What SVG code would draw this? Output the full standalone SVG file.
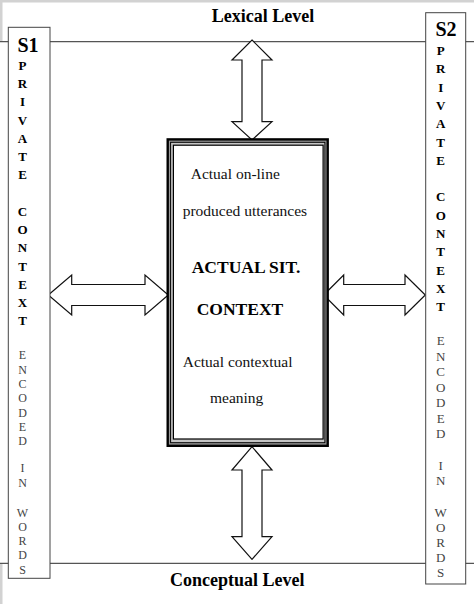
<svg xmlns="http://www.w3.org/2000/svg" width="474" height="604" viewBox="0 0 474 604">
  <style>
    .serif { font-family: "Liberation Serif", "Times New Roman", serif; }
    .lvl { font-family: "Liberation Serif", "Times New Roman", serif; font-weight: bold; font-size: 18px; fill: #000; }
    .big { font-family: "Liberation Serif", "Times New Roman", serif; font-weight: bold; font-size: 20px; fill: #000; text-anchor: middle; }
    .bl { font-family: "Liberation Serif", "Times New Roman", serif; font-weight: bold; font-size: 13px; fill: #000; text-anchor: middle; }
    .rl { font-family: "Liberation Serif", "Times New Roman", serif; font-size: 12px; fill: #444; text-anchor: middle; }
    .rr { font-family: "Liberation Serif", "Times New Roman", serif; font-size: 13px; fill: #444; text-anchor: middle; }
    .ct { font-family: "Liberation Serif", "Times New Roman", serif; font-size: 15.5px; fill: #111; }
    .cb { font-family: "Liberation Serif", "Times New Roman", serif; font-weight: bold; font-size: 17.5px; fill: #000; }
    .col { fill: #fff; stroke: #444; stroke-width: 1; }
    .arrow { fill: #fff; stroke: #111; stroke-width: 1.2; stroke-linejoin: miter; }
    .lvline { stroke: #555; stroke-width: 1.2; fill: none; }
  </style>

  <rect x="0" y="0" width="474" height="604" fill="#fff"/>
  <g id="scan-edge" fill="#d2d2d2">
    <rect x="0" y="0" width="474" height="2.5"/>
    <rect x="0" y="0" width="2.5" height="41"/>
    <rect x="0" y="564" width="2.5" height="40"/>
  </g>

  <g id="levels">
    <line class="lvline" x1="0" y1="41.7" x2="474" y2="41.7"/>
    <line class="lvline" x1="0" y1="563.3" x2="474" y2="563.3"/>
    <text class="lvl" x="211.7" y="21.7">Lexical Level</text>
    <text class="lvl" x="170" y="585.7">Conceptual Level</text>
  </g>

  <g id="connectors">
    <path class="arrow" d="M252,40 L272,60 L262,60 L262,121.7 L272,121.7 L252,140 L232,121.7 L242,121.7 L242,60 L232,60 Z"/>
    <path class="arrow" d="M252,446.7 L272,470 L262,470 L262,536.7 L272,536.7 L252,559.3 L232,536.7 L242,536.7 L242,470 L232,470 Z"/>
    <path class="arrow" d="M48.3,295 L71.7,275 L71.7,284.5 L145,284.5 L145,275 L168.3,295 L145,315 L145,305.5 L71.7,305.5 L71.7,315 Z"/>
    <path class="arrow" d="M323.7,295 L343.7,275 L343.7,284.5 L405,284.5 L405,275 L425.3,295 L405,315 L405,305.5 L343.7,305.5 L343.7,315 Z"/>
  </g>

  <g id="s1">
    <rect class="col" x="8.3" y="27.3" width="41.7" height="551"/>
    <text class="big" x="28" y="52">S1</text>
    <text class="bl" x="22.5" y="70">P</text>
    <text class="bl" x="22.5" y="88.2">R</text>
    <text class="bl" x="22.5" y="106.4">I</text>
    <text class="bl" x="22.5" y="124.6">V</text>
    <text class="bl" x="22.5" y="142.8">A</text>
    <text class="bl" x="22.5" y="161">T</text>
    <text class="bl" x="22.5" y="179.2">E</text>
    <text class="bl" x="22.5" y="216">C</text>
    <text class="bl" x="22.5" y="234.2">O</text>
    <text class="bl" x="22.5" y="252.4">N</text>
    <text class="bl" x="22.5" y="270.6">T</text>
    <text class="bl" x="22.5" y="288.8">E</text>
    <text class="bl" x="22.5" y="307">X</text>
    <text class="bl" x="22.5" y="325.2">T</text>
    <text class="rl" x="22.5" y="359.3">E</text>
    <text class="rl" x="22.5" y="373.6">N</text>
    <text class="rl" x="22.5" y="387.9">C</text>
    <text class="rl" x="22.5" y="402.2">O</text>
    <text class="rl" x="22.5" y="416.5">D</text>
    <text class="rl" x="22.5" y="430.8">E</text>
    <text class="rl" x="22.5" y="445.1">D</text>
    <text class="rl" x="22.5" y="471.7">I</text>
    <text class="rl" x="22.5" y="486.5">N</text>
    <text class="rl" x="22.5" y="516.7">W</text>
    <text class="rl" x="22.5" y="530.9">O</text>
    <text class="rl" x="22.5" y="545.1">R</text>
    <text class="rl" x="22.5" y="559.3">D</text>
    <text class="rl" x="22.5" y="573.5">S</text>
  </g>

  <g id="s2">
    <rect class="col" x="425.7" y="12.7" width="40" height="571.3"/>
    <text class="big" x="446" y="35.5">S2</text>
    <text class="bl" x="440.7" y="55">P</text>
    <text class="bl" x="440.7" y="73.3">R</text>
    <text class="bl" x="440.7" y="91.6">I</text>
    <text class="bl" x="440.7" y="109.9">V</text>
    <text class="bl" x="440.7" y="128.2">A</text>
    <text class="bl" x="440.7" y="146.5">T</text>
    <text class="bl" x="440.7" y="164.8">E</text>
    <text class="bl" x="440.7" y="201.4">C</text>
    <text class="bl" x="440.7" y="219.7">O</text>
    <text class="bl" x="440.7" y="238">N</text>
    <text class="bl" x="440.7" y="256.3">T</text>
    <text class="bl" x="440.7" y="274.6">E</text>
    <text class="bl" x="440.7" y="292.9">X</text>
    <text class="bl" x="440.7" y="311.2">T</text>
    <text class="rr" x="440.7" y="345">E</text>
    <text class="rr" x="440.7" y="360.5">N</text>
    <text class="rr" x="440.7" y="376">C</text>
    <text class="rr" x="440.7" y="391.5">O</text>
    <text class="rr" x="440.7" y="407">D</text>
    <text class="rr" x="440.7" y="422.5">E</text>
    <text class="rr" x="440.7" y="438">D</text>
    <text class="rr" x="440.7" y="470">I</text>
    <text class="rr" x="440.7" y="485">N</text>
    <text class="rr" x="440.7" y="516.7">W</text>
    <text class="rr" x="440.7" y="531.7">O</text>
    <text class="rr" x="440.7" y="546.7">R</text>
    <text class="rr" x="440.7" y="561.7">D</text>
    <text class="rr" x="440.7" y="576.7">S</text>
  </g>

  <g id="actual-context">
    <rect x="167.7" y="139.4" width="160" height="306.4" fill="#9a9a9a" stroke="#000" stroke-width="2.4"/>
    <rect x="170.6" y="142.3" width="154.3" height="300.4" fill="#c4c4c4" stroke="#000" stroke-width="1"/>
    <rect x="173.4" y="145.2" width="149.7" height="293.8" fill="#fff" stroke="#000" stroke-width="1.2"/>
    <text class="ct" x="190.7" y="179.3">Actual on-line</text>
    <text class="ct" x="182.7" y="216">produced utterances</text>
    <text class="cb" x="191.7" y="272.7">ACTUAL SIT.</text>
    <text class="cb" x="196.7" y="315">CONTEXT</text>
    <text class="ct" x="182.7" y="366.7">Actual contextual</text>
    <text class="ct" x="210" y="403.3">meaning</text>
  </g>
</svg>
